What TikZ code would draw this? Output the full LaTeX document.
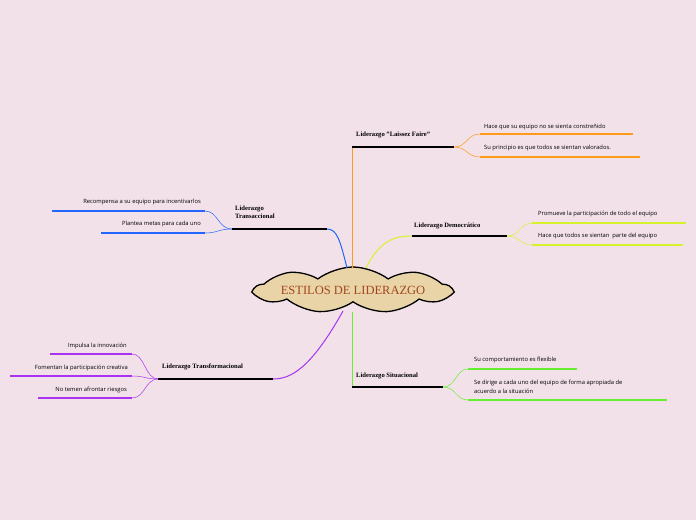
\documentclass[tikz,border=0pt]{standalone}
\usepackage{fontspec}
\setmainfont{Liberation Serif}
\newfontfamily\childfont{Open Sans}
\usetikzlibrary{shapes.symbols,calc}
\definecolor{bg}{HTML}{F2E1E8}
\definecolor{cloudf}{HTML}{E9D4A8}
\definecolor{ttl}{HTML}{A3461B}
\definecolor{cor}{HTML}{FF9A1A}
\definecolor{cyl}{HTML}{D6F22C}
\definecolor{cgr}{HTML}{66EE33}
\definecolor{cbl}{HTML}{2266FF}
\definecolor{cpu}{HTML}{A833F2}
\begin{document}
\begin{tikzpicture}[x=1pt,y=-1pt,
  lab/.style={font=\bfseries\fontsize{6.6}{7.8}\selectfont,anchor=west,inner sep=0,align=left},
  ch/.style={font=\childfont\fontsize{5.8}{8.5}\selectfont,anchor=west,inner sep=0,align=left},
  hline/.style={line width=1.3pt,black},
  trunk/.style={line width=1pt},
  twig/.style={line width=0.5pt},
  leaf/.style={line width=1.3pt}]
\fill[bg] (0,0) rectangle (696,520);
\useasboundingbox (0,0) rectangle (696,520);
\node[cloud,cloud puffs=9,cloud puff arc=75,aspect=4.3,draw=black,line width=1.3pt,fill=cloudf,minimum width=196pt,minimum height=46pt,inner sep=0] (c) at (353,290) {};
\coordinate (lfA) at (352,147); \coordinate (lfB) at (454,147);
\coordinate (deA) at (412,236); \coordinate (deB) at (507,236);
\coordinate (siA) at (352,387); \coordinate (siB) at (443,387);
\coordinate (trA) at (327,229); \coordinate (trB) at (232,229);
\coordinate (tfA) at (273,379); \coordinate (tfB) at (158,379);
\draw[trunk,cor] (352,268) -- (lfA);
\draw[trunk,cyl] (366,268) .. controls (380,240) and (395,236) .. (deA);
\draw[trunk,cgr] (352,312) -- (siA);
\draw[trunk,cbl] (347,268) .. controls (340,240) and (337,229) .. (trA);
\draw[trunk,cpu] (343,311) .. controls (310,370) and (290,379) .. (tfA);
\draw[hline] (lfA) -- (lfB); \draw[hline] (deA) -- (deB); \draw[hline] (siA) -- (siB);
\draw[hline] (trA) -- (trB); \draw[hline] (tfA) -- (tfB);
\node[font=\fontsize{12.5}{13}\selectfont,text=ttl] (t) at (c) {ESTILOS DE LIDERAZGO};
\node[lab] (l1) at (356,135) {Liderazgo "Laissez Faire"};
\node[lab] (l2) at (414,226) {Liderazgo Democrático};
\node[lab] (l3) at (356,376) {Liderazgo Situacional};
\node[lab] (l4) at (235,212) {Liderazgo\\Transaccional};
\node[lab] (l5) at (162,367) {Liderazgo Transformacional};
\foreach \y/\xe/\cc in {134/633/cor,157/640/cor}{\draw[twig,\cc] (lfB) .. controls (467,147) and (467,\y) .. (480,\y); \draw[leaf,\cc] (480,\y) -- (\xe,\y);}
\node[ch] at (484,127) {Hace que su equipo no se sienta constreñido};
\node[ch] at (484,148) {Su principio es que todos se sientan valorados.};
\foreach \y/\xe/\cc in {223/686/cyl,245/683/cyl}{\draw[twig,\cc] (deB) .. controls (520,236) and (520,\y) .. (532,\y); \draw[leaf,\cc] (532,\y) -- (\xe,\y);}
\node[ch] at (538,214) {Promueve la participación de todo el equipo};
\node[ch] at (538,236) {Hace que todos se sientan\ \ parte del equipo};
\foreach \y/\xe/\cc in {369/577/cgr,400/667/cgr}{\draw[twig,\cc] (siB) .. controls (456,387) and (456,\y) .. (468,\y); \draw[leaf,\cc] (468,\y) -- (\xe,\y);}
\node[ch] at (474,360) {Su comportamiento es flexible};
\node[ch] at (474,387) {Se dirige a cada uno del equipo de forma apropiada de\\acuerdo a la situación};
\foreach \y/\xs/\cc in {211/52/cbl,233/101/cbl}{\draw[twig,\cc] (trB) .. controls (218,229) and (218,\y) .. (205,\y); \draw[leaf,\cc] (205,\y) -- (\xs,\y);}
\node[ch,anchor=east] at (201,202) {Recompensa a su equipo para incentivarlos};
\node[ch,anchor=east] at (201,224) {Plantea metas para cada uno};
\foreach \y/\xs/\cc in {354/50/cpu,376/10/cpu,398/38/cpu}{\draw[twig,\cc] (tfB) .. controls (145,379) and (145,\y) .. (132,\y); \draw[leaf,\cc] (132,\y) -- (\xs,\y);}
\node[ch,anchor=east] at (127,346) {Impulsa la innovación};
\node[ch,anchor=east] at (128,368) {Fomentan la participación creativa};
\node[ch,anchor=east] at (127,390) {No temen afrontar riesgos};
\end{tikzpicture}
\end{document}
